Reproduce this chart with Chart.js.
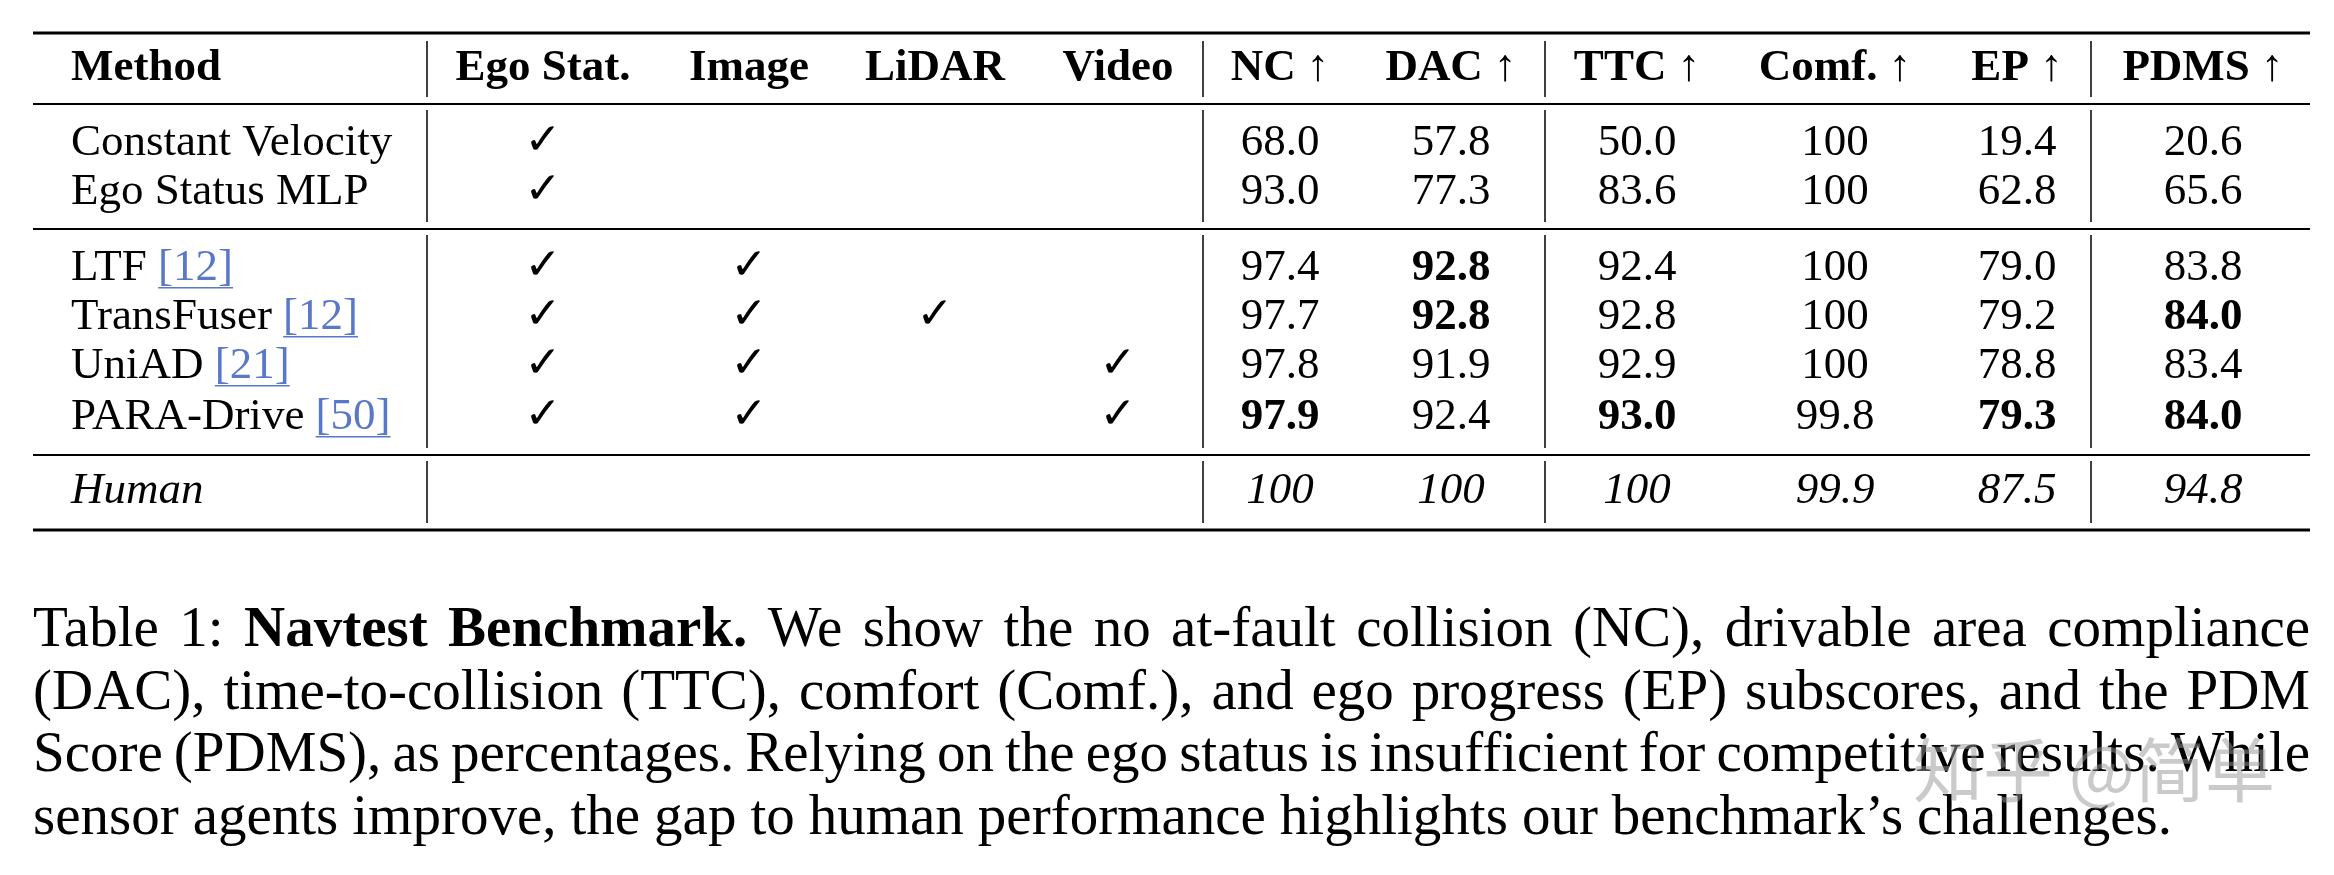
<!DOCTYPE html>
<html><head><meta charset="utf-8">
<script src="https://cdn.jsdelivr.net/npm/chart.js@4"></script>
<style>html,body{margin:0;padding:0;background:#fff}#w{width:2334px;height:875px}</style>
</head><body><div id="w"><canvas id="c"></canvas></div>
<script>
const headers = ["Method","Ego Stat.","Image","LiDAR","Video","NC ↑","DAC ↑","TTC ↑","Comf. ↑","EP ↑","PDMS ↑"];
const methods = ["Constant Velocity","Ego Status MLP","LTF","TransFuser","UniAD","PARA-Drive","Human"];
const refs = ["","","[12]","[12]","[21]","[50]",""];
const egoStat = [1,1,1,1,1,1,0];
const image   = [0,0,1,1,1,1,0];
const lidar   = [0,0,0,1,0,0,0];
const video   = [0,0,0,0,1,1,0];
const NC   = ["68.0","93.0","97.4","97.7","97.8","97.9","100"];
const DAC  = ["57.8","77.3","92.8","92.8","91.9","92.4","100"];
const TTC  = ["50.0","83.6","92.4","92.8","92.9","93.0","100"];
const Comf = ["100","100","100","100","100","99.8","99.9"];
const EP   = ["19.4","62.8","79.0","79.2","78.8","79.3","87.5"];
const PDMS = ["20.6","65.6","83.8","84.0","83.4","84.0","94.8"];
const boldCells = {NC:[5],DAC:[2,3],TTC:[5],Comf:[],EP:[5],PDMS:[3,5]};
const caption = [
 [["Table 1: ",0],["Navtest Benchmark.",1],[" We show the no at-fault collision (NC), drivable area compliance",0]],
 [["(DAC), time-to-collision (TTC), comfort (Comf.), and ego progress (EP) subscores, and the PDM",0]],
 [["Score (PDMS), as percentages. Relying on the ego status is insufficient for competitive results. While",0]],
 [["sensor agents improve, the gap to human performance highlights our benchmark’s challenges.",0]]
];

const colX = [71,543,749,935,1118,1280,1451,1637,1835,2017,2203];
const rowY = [143,192,268,317,366,417,491];
const headY = 68;
const rules = [[33,3],[104,2],[229,2],[455,2],[530,3]];
const vlines = [427,1203,1545,2091];
const capY = [631,694,756,819];
const F = '"Liberation Serif", "Times New Roman", serif';

const tablePlugin = {
 id:'table',
 afterDraw(chart){
  const ctx = chart.ctx, xs = chart.scales.x, ys = chart.scales.y;
  const X = v=>xs.getPixelForValue(v), Y = v=>ys.getPixelForValue(v);
  ctx.save();
  ctx.fillStyle='#000'; ctx.strokeStyle='#000';
  rules.forEach(([y,w])=>{ctx.lineWidth=w;ctx.beginPath();ctx.moveTo(X(33),Y(y));ctx.lineTo(X(2310),Y(y));ctx.stroke();});
  ctx.lineWidth=1.5;
  const segs=[[41,97],[110,222],[235,448],[461,523]];
  vlines.forEach(x=>segs.forEach(([a,b])=>{ctx.beginPath();ctx.moveTo(X(x),Y(a));ctx.lineTo(X(x),Y(b));ctx.stroke();}));
  ctx.textBaseline='middle';
  ctx.font='bold 45px '+F;
  headers.forEach((h,i)=>{ctx.textAlign=i==0?'left':'center';ctx.fillText(h,X(colX[i]),Y(headY));});
  const cols={NC,DAC,TTC,Comf,EP,PDMS}; const keys=Object.keys(cols);
  methods.forEach((m,r)=>{
   const human = r===6;
   ctx.font=(human?'italic ':'')+'45px '+F; ctx.textAlign='left'; ctx.fillStyle='#000';
   ctx.fillText(m,X(colX[0]),Y(rowY[r]));
   if(refs[r]){
     const w=ctx.measureText(m+' ').width;
     ctx.fillStyle='#5a78c8'; ctx.fillText(refs[r],X(colX[0])+w,Y(rowY[r]));
     const rw=ctx.measureText(refs[r]).width;
     ctx.fillRect(X(colX[0])+w,Y(rowY[r])+19,rw,1.5);
     ctx.fillStyle='#000';
   }
   ctx.font='bold 44px "DejaVu Sans", sans-serif'; ctx.textAlign='center';
   [egoStat,image,lidar,video].forEach((a,k)=>{ if(a[r]) ctx.fillText('✓',X(colX[k+1]),Y(rowY[r]));});
   keys.forEach((k,j)=>{
     const b=boldCells[k].includes(r);
     ctx.font=(human?'italic ':'')+(b?'bold ':'')+'45px '+F;
     ctx.fillText(cols[k][r],X(colX[5+j]),Y(rowY[r]));
   });
  });
  const L=X(33), R=X(2310);
  caption.forEach((parts,li)=>{
   const toks=[]; let sp=false;
   parts.forEach(([t,b])=>{ t.split(' ').forEach((w,i)=>{ if(i>0) sp=true; if(w){toks.push({w,b,sp});sp=false;} }); });
   let tw=0; toks.forEach(t=>{ctx.font=(t.b?'bold ':'')+'57px '+F; t.wd=ctx.measureText(t.w).width; tw+=t.wd;});
   const gaps=toks.filter((t,i)=>i>0&&t.sp).length;
   const last = li===caption.length-1;
   const g = last?14:(R-L-tw)/gaps;
   let x=L; ctx.textAlign='left';
   toks.forEach((t,i)=>{ if(i>0&&t.sp) x+=g; ctx.font=(t.b?'bold ':'')+'57px '+F; ctx.fillStyle='#000'; ctx.fillText(t.w,x,Y(capY[li])); x+=t.wd;});
  });
  ctx.font='70px "Noto Sans CJK SC", sans-serif'; ctx.fillStyle='rgba(150,150,150,0.5)'; ctx.textAlign='left';
  ctx.fillText('知乎 @简单',X(1913),Y(770));
  ctx.restore();
 }
};

new Chart(document.getElementById('c'),{
 type:'scatter',
 data:{datasets:[{data:methods.map((m,r)=>({x:colX[0],y:rowY[r]})),pointRadius:0}]},
 options:{responsive:true,maintainAspectRatio:false,animation:false,
  layout:{padding:0},
  plugins:{legend:{display:false},tooltip:{enabled:false}},
  scales:{x:{type:'linear',min:0,max:2334,display:false},y:{type:'linear',min:0,max:875,reverse:true,display:false}}},
 plugins:[tablePlugin]
});
</script></body></html>
